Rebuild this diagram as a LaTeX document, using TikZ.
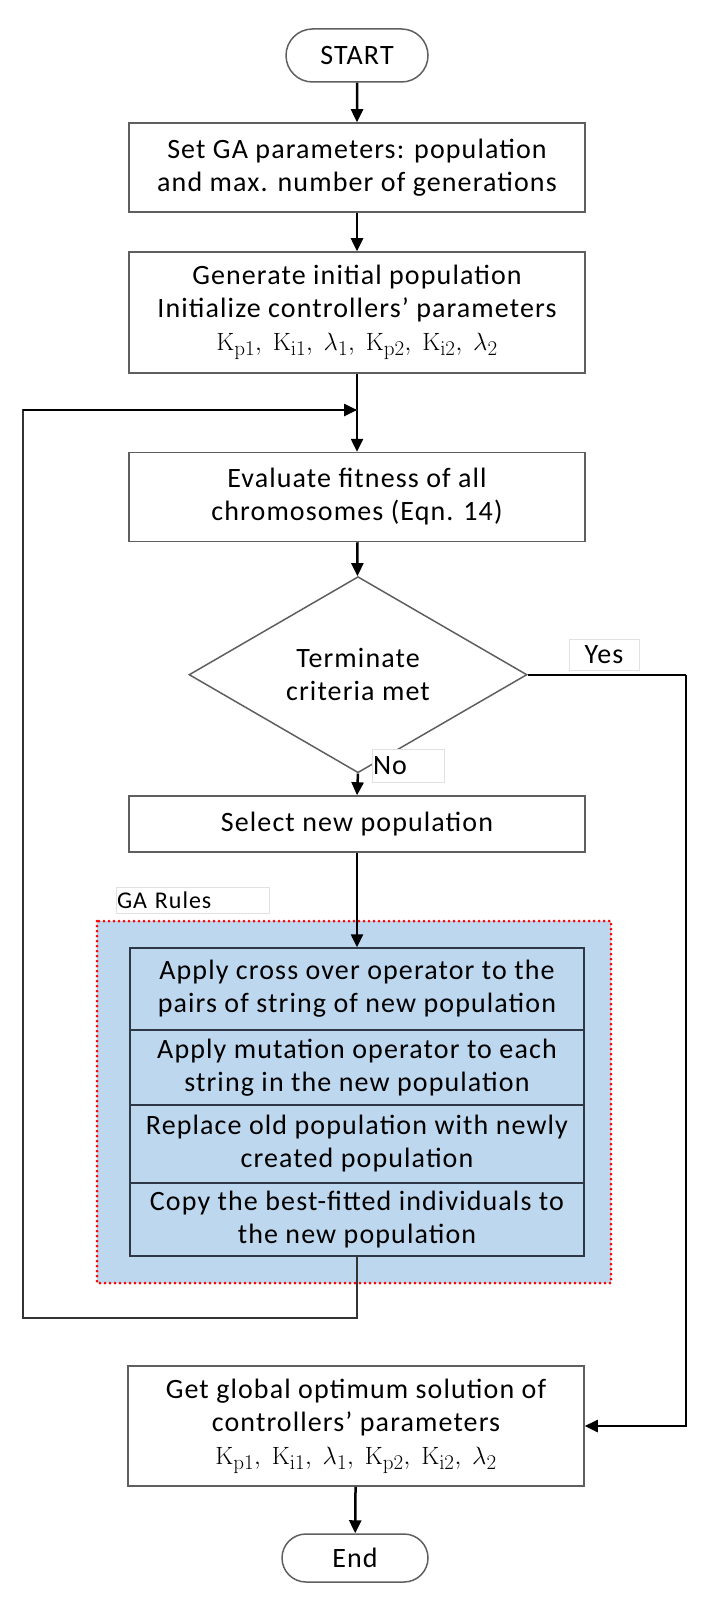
\RequirePackage{fix-cm}
\documentclass[tikz,border=0pt]{standalone}
\usepackage[no-math]{fontspec}
\setmainfont{Carlito}[LetterSpace=4]
\usetikzlibrary{arrows.meta,shapes.geometric,shapes.misc}

\definecolor{rulefill}{RGB}{189,215,238}
\definecolor{boxline}{RGB}{95,95,95}
\definecolor{ruleline}{RGB}{45,55,70}
\definecolor{tagline}{RGB}{225,225,225}
\DeclareMathSizes{25}{25}{21}{17}
\newcommand{\bodyfont}{\fontsize{28}{33}\selectfont}
\newcommand{\gains}{{\fontsize{25}{29}\selectfont $\mathrm{K_{p1}},\ \mathrm{K_{i1}},\ \lambda_{1},\ \mathrm{K_{p2}},\ \mathrm{K_{i2}},\ \lambda_{2}$}}

\begin{document}
\begin{tikzpicture}[x=1pt,y=1pt,yscale=-1,xscale=1,
  procbox/.style={draw=boxline,line width=1.5pt,fill=white,minimum width=456pt,inner sep=0pt,align=center,font=\bodyfont},
  rulebox/.style={draw=ruleline,line width=1.5pt,fill=rulefill,minimum width=454pt,inner sep=0pt,align=center,font=\bodyfont},
  pill/.style={draw=boxline,line width=1.5pt,rounded rectangle,inner sep=0pt,font=\bodyfont},
  decision/.style={draw=boxline,line width=1.5pt,diamond,minimum width=338pt,minimum height=144pt,inner sep=0pt,align=center,font=\bodyfont},
  tag/.style={draw=tagline,line width=0.6pt,fill=white,inner sep=0pt,font=\bodyfont},
  flow/.style={line width=2.5pt,-{Triangle[length=13pt,width=12pt]}},
  backline/.style={draw=black!80,line width=2pt}]
				\useasboundingbox (0,0) rectangle (709,1602);

				% GA rules region
				\fill [rulefill] (97,921) rectangle (611,1283);
				\draw [red,line width=3pt,line cap=round,dash pattern={on 0pt off 5pt}] (97,921) rectangle (611,1283);

				% Text Node
				\node [pill,minimum width=142pt,minimum height=53pt] (start) at (357,55.5) {START};
				% Text Node
				\node [procbox,minimum height=89pt] (setga) at (357,167.5) {Set GA parameters: population\\and max. number of generations};
				% Text Node
				\node [procbox,minimum height=121pt] (init) at (357,312.5) {Generate initial population\\Initialize controllers’ parameters\\\gains};
				% Text Node
				\node [procbox,minimum height=89pt] (eval) at (357,497) {Evaluate fitness of all\\chromosomes (Eqn. 14)};
				% Text Node
				\node [decision] (test) at (358,674.7) {Terminate\\criteria met};
				% Text Node
				\node [procbox,minimum height=56pt] (select) at (357,824) {Select new population};
				% Text Node
				\node [tag,minimum width=153pt,minimum height=26pt,font=\fontsize{24}{26}\selectfont,text width=151pt,align=left] (rules) at (192.5,900) {GA Rules};
				% Text Node
				\node [rulebox,minimum height=82pt] (cross) at (357,989) {Apply cross over operator to the\\pairs of string of new population};
				% Text Node
				\node [rulebox,minimum height=75pt] (mutate) at (357,1067.5) {Apply mutation operator to each\\string in the new population};
				% Text Node
				\node [rulebox,minimum height=78pt] (replace) at (357,1144) {Replace old population with newly\\created population};
				% Text Node
				\node [rulebox,minimum height=73pt] (best) at (357,1219.5) {Copy the best-fitted individuals to\\the new population};
				% Text Node
				\node [procbox,minimum height=120pt] (final) at (356,1426) {Get global optimum solution of\\controllers’ parameters\\\gains};
				% Text Node
				\node [pill,minimum width=146pt,minimum height=48pt] (finish) at (355,1558) {End};
				% Text Node
				\node [tag,minimum width=70pt,minimum height=31pt] (yes) at (604,654.5) {Yes};
				% Text Node
				\node [tag,minimum width=72pt,minimum height=33pt,text width=70pt,align=left] (no) at (408,765.5) {No};

				\coordinate (merge) at (357,410);
				\coordinate (back) at (23,1318);
				\coordinate (yesturn) at (686,674.7);

				% Straight Lines
				\draw [flow] (start) -- (setga);
				\draw [flow] (setga) -- (init);
				\draw [flow] (init) -- (eval);
				\draw [flow] (eval) -- (test);
				\draw [flow] (test.south) -- (select.north);
				\draw [flow] (select) -- (cross);
				\draw [flow] (final) -- (finish);
				% feedback loop
				\draw [backline] (best.south) |- (back) |- (merge);
				\draw [flow] (back |- merge) -- (merge);
				% yes branch
				\draw [line width=2.2pt] (test.east) -- (yesturn);
				\draw [flow] (yesturn) |- (final.east);
\end{tikzpicture}
\end{document}
